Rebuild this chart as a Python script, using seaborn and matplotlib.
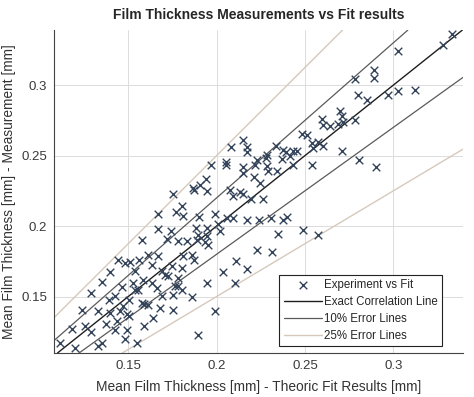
import numpy as np
import pandas as pd
import matplotlib
matplotlib.use('Agg')
import matplotlib.pyplot as plt
from matplotlib.ticker import FormatStrFormatter
import seaborn as sns

fit_mm = [0.3334, 0.3279, 0.3028, 0.2891, 0.2891, 0.2783, 0.2798, 0.2849, 0.2968, 0.3025,
          0.3125, 0.2698, 0.2708, 0.2783, 0.2594, 0.2600, 0.2642, 0.2689, 0.2717, 0.2481,
          0.2509, 0.2538, 0.2547, 0.2575, 0.2600, 0.2708, 0.2808, 0.2902, 0.2542, 0.2151,
          0.2174, 0.2170, 0.2081, 0.2051, 0.2051, 0.1968, 0.2334, 0.2374, 0.2392, 0.2434,
          0.2457, 0.2283, 0.2279, 0.2226, 0.2217, 0.2368, 0.2415, 0.2430, 0.2151, 0.2147,
          0.2283, 0.2292, 0.2340, 0.2211, 0.2245, 0.1755, 0.1868, 0.1874, 0.1906, 0.1938,
          0.1943, 0.2075, 0.2094, 0.2132, 0.2147, 0.2193, 0.2264, 0.1802, 0.1670, 0.1768,
          0.1808, 0.1902, 0.1991, 0.2057, 0.2094, 0.2174, 0.2242, 0.2306, 0.2377, 0.2400,
          0.2009, 0.2019, 0.1943, 0.1883, 0.1670, 0.1742, 0.1896, 0.1943, 0.1891, 0.1934,
          0.1953, 0.1830, 0.1783, 0.1717, 0.1575, 0.2345, 0.2487, 0.2575, 0.2226, 0.2311,
          0.2109, 0.2170, 0.2034, 0.1947, 0.2104, 0.1991, 0.1896, 0.1858, 0.1755, 0.1679,
          0.1638, 0.1589, 0.1551, 0.1481, 0.1425, 0.1491, 0.1349, 0.1330, 0.1292, 0.1236,
          0.1292, 0.1349, 0.1396, 0.1443, 0.1481, 0.1509, 0.1562, 0.1538, 0.1613, 0.1670,
          0.1632, 0.1689, 0.1708, 0.1726, 0.1745, 0.1802, 0.1783, 0.1811, 0.1858, 0.1872,
          0.1764, 0.1783, 0.1802, 0.1755, 0.1689, 0.1660, 0.1632, 0.1585, 0.1557, 0.1528,
          0.1462, 0.1425, 0.1392, 0.1504, 0.1472, 0.1575, 0.1589, 0.1613, 0.1491, 0.1504,
          0.1434, 0.1374, 0.1396, 0.1330, 0.1255, 0.1179, 0.1198, 0.1113, 0.1453, 0.1538]
measured_mm = [0.3361, 0.3283, 0.3243, 0.3108, 0.3054, 0.3042, 0.2932, 0.2896, 0.2932, 0.2955,
               0.2967, 0.2814, 0.2778, 0.2750, 0.2759, 0.2719, 0.2712, 0.2724, 0.2736, 0.2653,
               0.2649, 0.2590, 0.2554, 0.2594, 0.2566, 0.2531, 0.2472, 0.2417, 0.2432, 0.2613,
               0.2561, 0.2526, 0.2561, 0.2455, 0.2436, 0.2432, 0.2566, 0.2542, 0.2524, 0.2531,
               0.2531, 0.2507, 0.2483, 0.2467, 0.2436, 0.2476, 0.2495, 0.2436, 0.2420, 0.2377,
               0.2425, 0.2389, 0.2389, 0.2347, 0.2307, 0.2229, 0.2271, 0.2255, 0.2295, 0.2337,
               0.2248, 0.2255, 0.2212, 0.2241, 0.2229, 0.2193, 0.2193, 0.2144, 0.2087, 0.2097,
               0.2068, 0.2064, 0.2087, 0.2057, 0.2057, 0.2040, 0.2040, 0.2057, 0.2040, 0.2064,
               0.2017, 0.1962, 0.1986, 0.1986, 0.1979, 0.1962, 0.1939, 0.1927, 0.1903, 0.1884,
               0.1868, 0.1892, 0.1892, 0.1908, 0.1903, 0.1946, 0.1974, 0.1934, 0.1828, 0.1816,
               0.1750, 0.1696, 0.1675, 0.1597, 0.1597, 0.1401, 0.1224, 0.1498, 0.1403, 0.1420,
               0.1349, 0.1290, 0.1172, 0.1196, 0.1262, 0.1262, 0.1168, 0.1149, 0.1248, 0.1403,
               0.1526, 0.1601, 0.1672, 0.1757, 0.1738, 0.1743, 0.1762, 0.1679, 0.1797, 0.1785,
               0.1726, 0.1679, 0.1656, 0.1644, 0.1715, 0.1703, 0.1632, 0.1785, 0.1797, 0.1762,
               0.1573, 0.1573, 0.1550, 0.1514, 0.1502, 0.1561, 0.1597, 0.1620, 0.1550, 0.1597,
               0.1568, 0.1502, 0.1479, 0.1479, 0.1436, 0.1455, 0.1450, 0.1443, 0.1373, 0.1361,
               0.1325, 0.1302, 0.1384, 0.1396, 0.1290, 0.1267, 0.1137, 0.1167, 0.1396, 0.1550]

error_levels = [0.10, 0.25]
tick_vals = [0.15, 0.2, 0.25, 0.3]

df = pd.DataFrame({'fit': fit_mm, 'meas': measured_mm})

sns.set_style('whitegrid')
plt.rcParams['font.family'] = ['Liberation Sans', 'DejaVu Sans']

fig = plt.figure(figsize=(4.74, 3.97), dpi=100)
ax = fig.add_axes([0.114, 0.111, 0.863, 0.813])

sns.scatterplot(data=df, x='fit', y='meas', marker='x', color='#33435a', s=30,
                linewidth=1.0, ax=ax, label='Experiment vs Fit', zorder=3)

ax.axline((0, 0), slope=1.0, color='#1e1e1e', lw=1.0, label='Exact Correlation Line')
e = error_levels[0]
ax.axline((0, 0), slope=1 + e, color='#5a5a5a', lw=0.9, label='10% Error Lines')
ax.axline((0, 0), slope=1 - e, color='#5a5a5a', lw=0.9)
e = error_levels[1]
ax.axline((0, 0), slope=1 + e, color='#d6c9bc', lw=1.0, label='25% Error Lines')
ax.axline((0, 0), slope=1 - e, color='#d6c9bc', lw=1.0)

ax.set_xlim(0.108, 0.3395)
ax.set_ylim(0.110, 0.339)
ax.set_xticks(tick_vals)
ax.set_yticks(tick_vals)
ax.xaxis.set_major_formatter(FormatStrFormatter('%g'))
ax.yaxis.set_major_formatter(FormatStrFormatter('%g'))
ax.grid(True, color='#dcdcdc', lw=0.7)
ax.tick_params(direction='in', length=3, labelsize=9.5, colors='#3a3a3a', pad=5)

for side in ['top', 'right']:
    ax.spines[side].set_visible(False)
for side in ['left', 'bottom']:
    ax.spines[side].set_color('#444444')
    ax.spines[side].set_linewidth(0.8)

ax.set_xlabel('Mean Film Thickness [mm] - Theoric Fit Results [mm]', fontsize=9.9,
              color='#333333', labelpad=6)
ax.set_ylabel('Mean Film Thickness [mm] - Measurement [mm]', fontsize=9.9, color='#333333')
ax.set_title('Film Thickness Measurements vs Fit results', fontsize=10, fontweight='bold', pad=8)

leg = ax.legend(loc='lower right', bbox_to_anchor=(0.949, 0.022), borderaxespad=0, fontsize=8.3,
                frameon=True, fancybox=False, framealpha=1, edgecolor='#222222',
                handlelength=3.3, borderpad=0.35, labelspacing=0.42, handletextpad=0.25)
leg.get_frame().set_linewidth(0.8)

fig.savefig('out.png', dpi=100)
